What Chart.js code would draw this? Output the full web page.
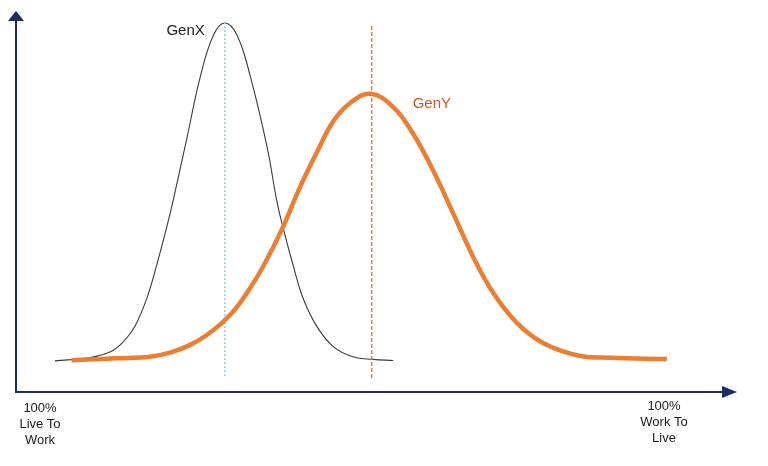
<!DOCTYPE html>
<html>
<head>
<meta charset="utf-8">
<title>GenX vs GenY</title>
<script src="https://cdn.jsdelivr.net/npm/chart.js@4/dist/chart.umd.min.js"></script>
<style>
  html, body { margin: 0; padding: 0; background: #fff; }
  #wrap { width: 768px; height: 466px; }
</style>
</head>
<body>
<div id="wrap"><canvas id="chart" width="768" height="466"></canvas></div>
<script>
// Horizontal position: 0 = 100% live to work, 100 = 100% work to live
const genXPos = [5.4, 10.3, 13.1, 14.9, 16.5, 18.2, 19.5, 20.7, 21.8, 23.75, 25.6, 27.4, 29.0, 30.7, 32.5, 34.9, 36.2, 37.1, 38.5, 39.9, 41.8, 44.1, 46.8, 49.6, 52.4];
const genXVal = [7.9, 8.8, 10.3, 12.9, 16.9, 24.5, 32.8, 41.3, 49.8, 66.5, 82.5, 93.3, 96.6, 93.4, 82.9, 63.8, 50.1, 42.8, 32.9, 24.2, 16.9, 11.6, 9.0, 8.3, 8.0];

const genYPos = [7.7, 14.0, 18.6, 21.4, 24.2, 26.5, 28.8, 30.7, 32.5, 34.3, 36.9, 39.4, 41.8, 44.0, 46.4, 49.3, 52.4, 55.1, 57.9, 60.7, 63.5, 66.3, 69.6, 73.2, 77.9, 82.5, 90.4];
const genYVal = [8.1, 8.6, 9.0, 10.05, 12.1, 14.7, 18.2, 22.1, 27.0, 32.6, 42.3, 53.3, 62.7, 70.6, 75.6, 78.0, 74.5, 67.7, 58.0, 46.7, 35.2, 25.7, 17.8, 12.6, 9.4, 8.7, 8.4];

// peak markers (vertical guide lines)
const genXPeak = 29.0;
const genYPeak = 49.4;
const genXGuide = [3.9, 96.9];
const genYGuide = [3.4, 96.1];

const leftLabel = ['100%', 'Live To', 'Work'];
const rightLabel = ['100%', 'Work To', 'Live'];

const navy = '#1b2d62';
const orange = '#ed7d31';

function pts(xs, ys) {
    return xs.map((x, i) => ({ x: x, y: ys[i] }));
}

// axes with arrow heads plus the curve names and end labels
const decorations = {
    id: 'decorations',
    afterDraw(chart) {
        const ctx = chart.ctx;
        const a = chart.chartArea;
        const xs = chart.scales.x;
        const ys = chart.scales.y;
        ctx.save();
        ctx.strokeStyle = navy;
        ctx.fillStyle = navy;
        ctx.lineWidth = 2;
        ctx.beginPath();
        ctx.moveTo(a.left, a.bottom + 1);
        ctx.lineTo(a.left, a.top + 10);
        ctx.moveTo(a.left - 1, a.bottom + 1);
        ctx.lineTo(a.right - 13, a.bottom + 1);
        ctx.stroke();
        // y arrow
        ctx.beginPath();
        ctx.moveTo(a.left, a.top + 1);
        ctx.lineTo(a.left - 8, a.top + 11);
        ctx.lineTo(a.left + 8, a.top + 11);
        ctx.closePath();
        ctx.fill();
        // x arrow
        ctx.beginPath();
        ctx.moveTo(a.right + 1, a.bottom + 1);
        ctx.lineTo(a.right - 14, a.bottom - 5);
        ctx.lineTo(a.right - 14, a.bottom + 7);
        ctx.closePath();
        ctx.fill();

        ctx.font = '15px "Liberation Sans", Arial, sans-serif';
        ctx.textBaseline = 'middle';
        ctx.textAlign = 'right';
        ctx.fillStyle = '#1a1a1a';
        ctx.fillText('GenX', xs.getPixelForValue(genXPeak) - 20, ys.getPixelForValue(94.5));
        ctx.textAlign = 'left';
        ctx.fillStyle = '#c55a28';
        ctx.fillText('GenY', xs.getPixelForValue(genYPeak) + 41, ys.getPixelForValue(75.3));

        ctx.font = '13px "Liberation Sans", Arial, sans-serif';
        ctx.fillStyle = '#1a1a1a';
        ctx.textAlign = 'center';
        leftLabel.forEach((t, i) => ctx.fillText(t, 40, a.bottom + 17 + i * 16));
        rightLabel.forEach((t, i) => ctx.fillText(t, 664, a.bottom + 15 + i * 16));
        ctx.restore();
    }
};

new Chart(document.getElementById('chart'), {
    type: 'line',
    data: {
        datasets: [
            {
                label: 'GenY peak',
                data: pts([genYPeak, genYPeak], genYGuide),
                borderColor: orange,
                borderWidth: 1.5,
                borderDash: [4, 2],
                order: 0
            },
            {
                label: 'GenY',
                data: pts(genYPos, genYVal),
                borderColor: orange,
                borderWidth: 4.5,
                tension: 0.4,
                order: 1
            },
            {
                label: 'GenX peak',
                data: pts([genXPeak, genXPeak], genXGuide),
                borderColor: '#9dc3e6',
                borderWidth: 1.5,
                borderDash: [2, 2],
                order: 2
            },
            {
                label: 'GenX',
                data: pts(genXPos, genXVal),
                borderColor: '#3a3a3a',
                borderWidth: 1.1,
                tension: 0.4,
                order: 3
            }
        ]
    },
    options: {
        responsive: false,
        animation: false,
        devicePixelRatio: 1,
        layout: { padding: { left: 16, right: 32, top: 10, bottom: 75 } },
        elements: { point: { radius: 0 } },
        plugins: {
            legend: { display: false },
            tooltip: { enabled: false }
        },
        scales: {
            x: { type: 'linear', min: 0, max: 100, display: false },
            y: { min: 0, max: 100, display: false }
        }
    },
    plugins: [decorations]
});
</script>
</body>
</html>
